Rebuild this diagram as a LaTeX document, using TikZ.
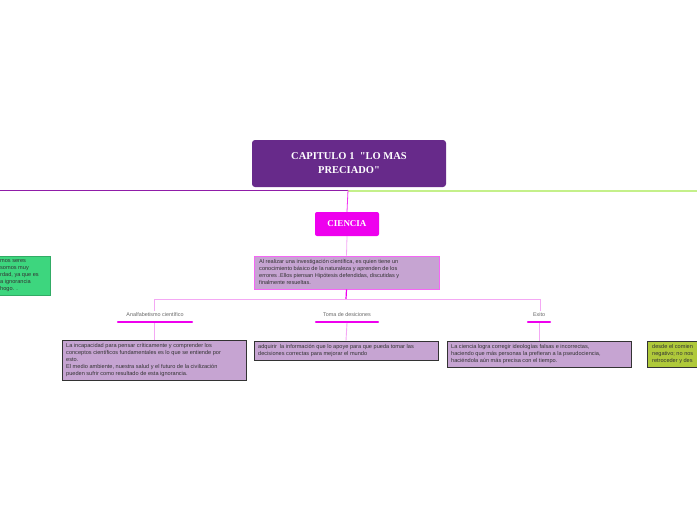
\documentclass[tikz,border=0pt]{standalone}
\usepackage{fontspec}
\setmainfont{Liberation Sans}
\newfontfamily\titlefont{Liberation Serif}
\definecolor{ttl}{HTML}{672A8A}
\definecolor{mag}{HTML}{EE00EE}
\definecolor{lmag}{HTML}{F4A8F4}
\definecolor{boxp}{HTML}{C6A4D2}
\definecolor{lgreen}{HTML}{C4F08A}
\definecolor{gbox}{HTML}{3DD67E}
\definecolor{obox}{HTML}{AFC93A}
\begin{document}
\begin{tikzpicture}[x=1pt,y=-1pt,
  txt/.style={font=\fontsize{5.6}{7}\selectfont,text=black!80,align=left,anchor=north west,inner sep=0pt},
  lbl/.style={font=\fontsize{5.4}{6}\selectfont,text=black!60,inner sep=0pt},
  ul/.style={mag,line width=2.2pt,line cap=round},
  conn/.style={lmag,line width=0.9pt}]
\useasboundingbox (0,0) rectangle (697,520);
\begin{scope}
\clip (0,0) rectangle (697,520);
% main lines
\draw[ttl!70!mag,line width=1pt] (348,190) -- (-5,190);
\draw[lgreen,line width=1.5pt] (348,191) -- (702,191);
% title
\node[fill=ttl,rounded corners=3pt,minimum width=194pt,minimum height=47pt,text=white,
  font=\titlefont\bfseries\fontsize{10.5}{14}\selectfont,align=center] (title) at (349,163.5) {CAPITULO 1~ "LO MAS\\PRECIADO"};
\coordinate (tb) at (348,190);
% ciencia
\node[fill=mag,rounded corners=2pt,minimum width=64pt,minimum height=24pt,text=white,
  font=\titlefont\bfseries\fontsize{9}{10}\selectfont] (cien) at (347,224) {CIENCIA};
\draw[mag!80,line width=0.8pt] (tb) -- (cien.north);
% description
\node[draw=mag!60,line width=0.8pt,fill=boxp,minimum width=185pt,minimum height=33pt] (desc) at (346.5,272.5) {};
\node[txt] at (259,259) {Al realizar una investigación científica, es quien tiene un\\conocimiento básico de la naturaleza y aprenden de los\\errores .Ellos piensan Hipótesis defendidas, discutidas y\\finalmente resueltas.};
\draw[lmag,line width=0.8pt] (cien.south) -- (desc.north);
% branches
\coordinate (j) at (346,299);
\draw[mag,line width=1.2pt] (desc.south) -- (j);
\draw[conn] (154,299) -- (540,299);
\draw[conn] (154,299) -- (154,311);
\draw[conn] (540,299) -- (540,311);
\node[lbl] (l1) at (155,315) {Analfabetismo científico};
\node[lbl] (l2) at (347,315) {Toma de desiciones};
\node[lbl] (l3) at (539,315) {Exito};
\draw[ul] (118,322) -- (192,322);
\draw[ul] (316,322) -- (378,322);
\draw[ul] (528,322) -- (550,322);
% leaf boxes
\node[draw=black!80,line width=0.8pt,fill=boxp,minimum width=184pt,minimum height=40pt] (b1) at (154,360) {};
\node[txt] at (66,343.5) {La incapacidad para pensar críticamente y comprender los\\conceptos científicos fundamentales es lo que se entiende por\\esto.\\El medio ambiente, nuestra salud y el futuro de la civilización\\pueden sufrir como resultado de esta ignorancia.};
\node[draw=black!80,line width=0.8pt,fill=boxp,minimum width=184pt,minimum height=19pt] (b2) at (346,350.5) {};
\node[txt] at (258,344) {adquirir~ la información que lo apoye para que pueda tomar las\\decisiones correctas para mejorar el mundo};
\node[draw=black!80,line width=0.8pt,fill=boxp,minimum width=184pt,minimum height=26pt] (b3) at (539,354) {};
\node[txt] at (451,344) {La ciencia logra corregir ideologías falsas e incorrectas,\\haciendo que más personas la prefieran a la pseudociencia,\\haciéndola aún más precisa con el tiempo.};
\draw[conn] (154,323) -- (b1.north);
\draw[conn] (347,323) -- (b2.north);
\draw[conn] (539,323) -- (b3.north);
% cut-off side boxes
\node[draw=gbox!80!black,fill=gbox,minimum width=70pt,minimum height=39pt] (gb) at (15,275.5) {};
\node[txt] at (0,259) {mos seres\\ somos muy\\rdad, ya que es\\a ignorancia\\hogo. .};
\node[draw=black!80,line width=0.8pt,fill=obox,minimum width=70pt,minimum height=26pt] (ob) at (682,354) {};
\node[txt] at (652,344) {desde el comien\\negativo; no nos\\retroceder y des};
\end{scope}
\end{tikzpicture}
\end{document}
